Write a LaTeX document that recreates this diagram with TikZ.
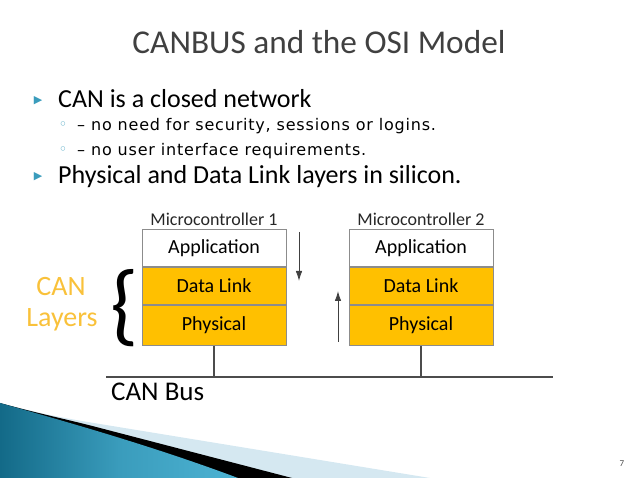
\documentclass[tikz,border=0pt]{standalone}
\usepackage{fontspec}
\setmainfont{Carlito}
\newfontfamily\subfont[LetterSpace=5]{DejaVu Sans}
\newfontfamily\dvsym{DejaVu Sans}
\usetikzlibrary{arrows.meta,calc}
\definecolor{gold}{HTML}{FFC000}
\definecolor{canorange}{HTML}{F9C13A}
\definecolor{titlegray}{HTML}{404040}
\definecolor{boxgray}{HTML}{8C8C8C}
\definecolor{teal}{HTML}{3A9CBC}
\definecolor{tealdark}{HTML}{136A88}
\definecolor{tealmid}{HTML}{4DB3D3}
\definecolor{lightblue}{HTML}{D5E8F1}
\tikzset{
  layer/.style={draw=boxgray, line width=0.9pt, minimum width=144pt, minimum height=37pt, inner sep=0pt, font=\fontsize{20}{20}\selectfont, text=black},
  gold layer/.style={layer, fill=gold},
  white layer/.style={layer, fill=white},
  wire/.style={draw=black!70, line width=1.2pt},
  flow/.style={draw=black!75, line width=0.9pt, -{Latex[length=10pt,width=6.5pt]}},
  mclabel/.style={font=\fontsize{18}{18}\selectfont, text=black!85, inner sep=0pt},
  mainbullet/.style={text=teal, font=\dvsym\fontsize{11}{11}\selectfont, inner sep=0pt},
  subbullet/.style={text=teal!80, font=\dvsym\fontsize{15}{15}\selectfont, inner sep=0pt},
  maintext/.style={anchor=base west, font=\fontsize{26}{26}\selectfont, inner sep=0pt},
  subtext/.style={anchor=base west, font=\subfont\fontsize{16}{18}\selectfont, inner sep=0pt},
  orangetext/.style={text=canorange, font=\fontsize{28}{28}\selectfont, inner sep=0pt},
}
\begin{document}
\begin{tikzpicture}[x=1pt,y=-1pt]
\useasboundingbox (0,0) rectangle (638,478);
% bottom-left decoration
\fill[lightblue] (0,403) .. controls (40,414) and (75,420) .. (100,424) -- (430,478) -- (0,478) -- cycle;
\fill[black] (0,403) .. controls (40,414) and (70,420) .. (100,428) -- (292,478) -- (0,478) -- cycle;
\shade[left color=tealdark, right color=tealmid, middle color=teal] (0,403) .. controls (60,420) and (150,445) .. (238,478) -- (0,478) -- cycle;
% title
\node[font=\fontsize{33.3}{34}\selectfont, text=titlegray] (title) at (319,42) {CANBUS and the OSI Model};
% bullets
\node[mainbullet] (b1m) at (38,101) {▶};
\node[maintext] (b1) at (58,108) {CAN is a closed network};
\node[subbullet] (s1m) at (63,126) {◦};
\node[subtext] (s1) at (77,131) {– no need for security, sessions or logins.};
\node[subbullet] (s2m) at (63,151) {◦};
\node[subtext] (s2) at (77,156) {– no user interface requirements.};
\node[mainbullet] (b2m) at (38,177) {▶};
\node[maintext] (b2) at (58,184) {Physical and Data Link layers in silicon.};
% microcontroller 1
\node[white layer] (app1) at (214,248) {Application};
\node[gold layer, anchor=north] (dl1) at (app1.south) {Data Link};
\node[gold layer, anchor=north, minimum height=40pt] (ph1) at (dl1.south) {Physical};
\node[mclabel, anchor=south] (mc1) at ([yshift=3pt]app1.north) {Microcontroller 1};
% microcontroller 2
\node[white layer] (app2) at (421,248) {Application};
\node[gold layer, anchor=north] (dl2) at (app2.south) {Data Link};
\node[gold layer, anchor=north, minimum height=40pt] (ph2) at (dl2.south) {Physical};
\node[mclabel, anchor=south] (mc2) at ([yshift=3pt]app2.north) {Microcontroller 2};
% bus
\coordinate (busL) at (106,377);
\coordinate (busR) at (553,377);
\draw[wire] (busL) -- (busR);
\draw[wire] (ph1.south) -- (ph1.south |- busL);
\draw[wire] (ph2.south) -- (ph2.south |- busL);
\node[anchor=base west, font=\fontsize{27}{27}\selectfont, inner sep=0pt] (busname) at (111,401) {CAN Bus};
% flow arrows
\coordinate (dnA) at (299,232);
\coordinate (dnB) at (299,281);
\coordinate (upA) at (338,342);
\coordinate (upB) at (338,291);
\draw[flow] (dnA) -- (dnB);
\draw[flow] (upA) -- (upB);
% brace and CAN layers label
\node[font=\fontsize{90}{90}\selectfont, inner sep=0pt] (brace) at (125,308) {\{};
\node[orangetext] (canl1) at (61,287) {CAN};
\node[orangetext] (canl2) at (62,320) {Layers};
% page number
\node[font=\fontsize{9}{9}\selectfont, text=black!70] (pg) at (622,464) {7};
\end{tikzpicture}
\end{document}
